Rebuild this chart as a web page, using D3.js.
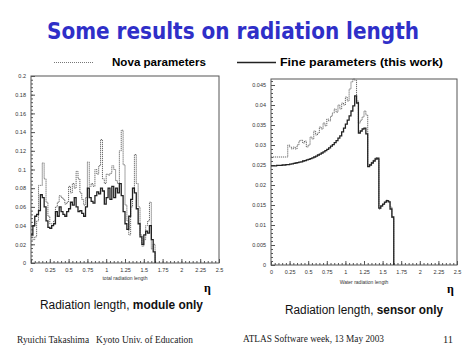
<!DOCTYPE html>
<html>
<head>
<meta charset="utf-8">
<script src="https://cdn.jsdelivr.net/npm/d3@7"></script>
<style>
  html, body { margin: 0; padding: 0; background: #fff; }
  svg { display: block; }
</style>
</head>
<body>
<svg id="chart" width="474" height="355"></svg>
<script>
// ---------------- DATA ----------------
const binWidth = 0.025;
// Left panel: total radiation length, module only (66 bins from eta 0 to 1.65)
const moduleNova = [
  0.030, 0.025, 0.028, 0.045, 0.083, 0.083, 0.107, 0.090, 0.065, 0.050,
  0.042, 0.040, 0.045, 0.060, 0.065, 0.072, 0.070, 0.068, 0.063, 0.065,
  0.082, 0.075, 0.085, 0.080, 0.098, 0.090, 0.075, 0.068, 0.062, 0.070,
  0.108, 0.082, 0.085, 0.082, 0.100, 0.095, 0.104, 0.132, 0.090, 0.085,
  0.095, 0.094, 0.096, 0.104, 0.100, 0.088, 0.085, 0.120, 0.142, 0.105,
  0.062, 0.045, 0.030, 0.060, 0.080, 0.116, 0.085, 0.060, 0.030, 0.018,
  0.025, 0.040, 0.045, 0.065, 0.015, 0.020
];
const moduleFine = [
  0.030, 0.040, 0.050, 0.052, 0.056, 0.073, 0.070, 0.060, 0.045, 0.038,
  0.037, 0.040, 0.042, 0.055, 0.050, 0.060, 0.055, 0.052, 0.050, 0.055,
  0.058, 0.065, 0.062, 0.070, 0.060, 0.055, 0.056, 0.053, 0.050, 0.060,
  0.080, 0.070, 0.066, 0.064, 0.072, 0.076, 0.074, 0.080, 0.077, 0.063,
  0.070, 0.080, 0.068, 0.082, 0.070, 0.080, 0.075, 0.085, 0.072, 0.055,
  0.042, 0.036, 0.050, 0.068, 0.080, 0.075, 0.058, 0.042, 0.028, 0.020,
  0.030, 0.034, 0.032, 0.040, 0.025, 0.012
];
// Right panel: water radiation length, sensor only
const sensorNova = [
  0.0270, 0.0270, 0.0270, 0.0270, 0.0270, 0.0270, 0.0270, 0.0270, 0.0270, 0.0300,
  0.0295, 0.0290, 0.0295, 0.0290, 0.0300, 0.0310, 0.0312, 0.0305, 0.0310, 0.0295,
  0.0300, 0.0320, 0.0315, 0.0335, 0.0325, 0.0330, 0.0345, 0.0340, 0.0355, 0.0348,
  0.0365, 0.0360, 0.0372, 0.0380, 0.0390, 0.0382, 0.0400, 0.0390, 0.0405, 0.0400,
  0.0420, 0.0410, 0.0440, 0.0458, 0.0465, 0.0462, 0.0410, 0.0355, 0.0362, 0.0370,
  0.0385, 0.0375, 0.0250, 0.0252, 0.0257, 0.0262, 0.0268, 0.0265, 0.0140, 0.0146,
  0.0151, 0.0156, 0.0162, 0.0160, 0.0145, 0.0118
];
const sensorFine = [
  0.0248, 0.0248, 0.0248, 0.0249, 0.0249, 0.0249, 0.0250, 0.0250, 0.0251, 0.0251,
  0.0252, 0.0253, 0.0254, 0.0255, 0.0256, 0.0257, 0.0258, 0.0260, 0.0261, 0.0263,
  0.0264, 0.0266, 0.0268, 0.0270, 0.0272, 0.0275, 0.0277, 0.0280, 0.0283, 0.0286,
  0.0289, 0.0293, 0.0297, 0.0301, 0.0306, 0.0311, 0.0317, 0.0323, 0.0333, 0.0342,
  0.0352, 0.0362, 0.0373, 0.0385, 0.0398, 0.0423, 0.0405, 0.0330, 0.0335, 0.0340,
  0.0342, 0.0328, 0.0246, 0.0250, 0.0255, 0.0260, 0.0265, 0.0267, 0.0142, 0.0148,
  0.0152, 0.0157, 0.0161, 0.0158, 0.0140, 0.0120
];
const xTicks = [0, 0.25, 0.5, 0.75, 1, 1.25, 1.5, 1.75, 2, 2.25, 2.5];
const xTickLabels = ["0", "0.25", "0.5", "0.75", "1", "1.25", "1.5", "1.75", "2", "2.25", "2.5"];
const leftYTicks = [0, 0.02, 0.04, 0.06, 0.08, 0.1, 0.12, 0.14, 0.16, 0.18, 0.2];
const rightYTicks = [0, 0.005, 0.01, 0.015, 0.02, 0.025, 0.03, 0.035, 0.04, 0.045];

// ---------------- DRAW ----------------
const svg = d3.select("#chart");

// Title
svg.append("text")
  .attr("x", 47).attr("y", 39)
  .attr("textLength", 372).attr("lengthAdjust", "spacingAndGlyphs")
  .style("font-family", "'Comic Sans MS', 'DejaVu Sans', sans-serif")
  .style("font-weight", "bold").style("font-size", "23px")
  .style("fill", "#2f2fc8")
  .text("Some results on radiation length");

// Legend
svg.append("line").attr("x1", 54).attr("x2", 93).attr("y1", 62.5).attr("y2", 62.5)
  .attr("stroke", "#777").attr("stroke-width", 1).attr("stroke-dasharray", "1,1");
svg.append("text").attr("x", 112).attr("y", 66)
  .attr("textLength", 94).attr("lengthAdjust", "spacingAndGlyphs")
  .style("font-family", "Arial, 'Liberation Sans', sans-serif").style("font-weight", "bold").style("font-size", "11px")
  .text("Nova parameters");
svg.append("line").attr("x1", 237).attr("x2", 276).attr("y1", 62.5).attr("y2", 62.5)
  .attr("stroke", "#222").attr("stroke-width", 1.3);
svg.append("text").attr("x", 280).attr("y", 66)
  .attr("textLength", 163).attr("lengthAdjust", "spacingAndGlyphs")
  .style("font-family", "Arial, 'Liberation Sans', sans-serif").style("font-weight", "bold").style("font-size", "11px")
  .text("Fine parameters  (this work)");

function panel(opts) {
  const { x0, x1, y0, y1, yMax, yTicks, yFmt, series, xTitle, xTitleY } = opts;
  const x = d3.scaleLinear().domain([0, 2.5]).range([x0, x1]);
  const y = d3.scaleLinear().domain([0, yMax]).range([y1, y0]);
  const g = svg.append("g");

  // frame
  g.append("rect").attr("x", x0).attr("y", y0).attr("width", x1 - x0).attr("height", y1 - y0)
    .attr("fill", "none").attr("stroke", "#555").attr("stroke-width", 1);

  // x axis (ticks inside)
  const xMinor = d3.range(0, 2.5001, 0.05);
  g.append("g").attr("transform", `translate(0,${y1})`)
    .call(d3.axisBottom(x).tickValues(xMinor).tickSize(-2).tickFormat(""))
    .call(a => a.select(".domain").remove())
    .call(a => a.selectAll("line").attr("stroke", "#555"));
  g.append("g").attr("transform", `translate(0,${y1})`)
    .call(d3.axisBottom(x).tickValues(xTicks).tickSize(-4).tickPadding(5)
      .tickFormat((d, i) => xTickLabels[i]))
    .call(a => a.select(".domain").remove())
    .call(a => a.selectAll("line").attr("stroke", "#555"))
    .call(a => a.selectAll("text").style("font-family", "Arial, 'Liberation Sans', sans-serif")
      .style("font-size", "5.5px").style("fill", "#333"));

  // y axis (ticks inside)
  const step = yTicks[1] - yTicks[0];
  const yMinor = d3.range(0, yMax + 1e-9, step / 5);
  g.append("g").attr("transform", `translate(${x0},0)`)
    .call(d3.axisLeft(y).tickValues(yMinor).tickSize(-2).tickFormat(""))
    .call(a => a.select(".domain").remove())
    .call(a => a.selectAll("line").attr("stroke", "#555"));
  g.append("g").attr("transform", `translate(${x0},0)`)
    .call(d3.axisLeft(y).tickValues(yTicks).tickSize(-4).tickPadding(5).tickFormat(yFmt))
    .call(a => a.select(".domain").remove())
    .call(a => a.selectAll("line").attr("stroke", "#555"))
    .call(a => a.selectAll("text").style("font-family", "Arial, 'Liberation Sans', sans-serif")
      .style("font-size", "5.5px").style("fill", "#333"));

  // histograms
  series.forEach(s => {
    const pts = s.values.map((v, i) => [i * binWidth, v]);
    const end = s.values.length * binWidth;
    pts.push([end, s.values[s.values.length - 1]]);
    pts.push([end, 0]);
    const line = d3.line().x(d => x(d[0])).y(d => y(d[1])).curve(d3.curveStepAfter);
    g.append("path").attr("d", line(pts)).attr("fill", "none")
      .attr("stroke", s.color).attr("stroke-width", s.width)
      .attr("stroke-dasharray", s.dash);
  });

  g.append("text").attr("x", (x0 + x1) / 2).attr("y", xTitleY).attr("text-anchor", "middle")
    .style("font-family", "Arial, 'Liberation Sans', sans-serif").style("font-size", "5px").style("fill", "#333")
    .text(xTitle);
}

panel({
  x0: 31, x1: 219, y0: 76, y1: 263, yMax: 0.2, yTicks: leftYTicks,
  yFmt: d => d3.format("~g")(d),
  series: [
    { values: moduleNova, color: "#666", width: 1, dash: "1.2,0.8" },
    { values: moduleFine, color: "#222", width: 1.3, dash: null }
  ],
  xTitle: "total radiation length", xTitleY: 280
});
panel({
  x0: 271, x1: 457, y0: 79, y1: 265, yMax: 0.0465, yTicks: rightYTicks,
  yFmt: d => d3.format("~g")(d),
  series: [
    { values: sensorNova, color: "#666", width: 1, dash: "1.2,0.8" },
    { values: sensorFine, color: "#222", width: 1.3, dash: null }
  ],
  xTitle: "Water radiation length", xTitleY: 284
});

// eta labels
[[204, 292], [447, 293]].forEach(p => {
  svg.append("text").attr("x", p[0]).attr("y", p[1])
    .style("font-family", "'Times New Roman', 'Liberation Serif', serif").style("font-weight", "bold")
    .style("font-size", "12px").text("η");
});

// captions
function caption(xp, yp, w, bold) {
  const t = svg.append("text").attr("x", xp).attr("y", yp)
    .attr("textLength", w).attr("lengthAdjust", "spacingAndGlyphs")
    .style("font-family", "Arial, 'Liberation Sans', sans-serif").style("font-size", "12px").style("fill", "#111");
  t.append("tspan").text("Radiation length, ");
  t.append("tspan").style("font-weight", "bold").text(bold);
}
caption(40, 309, 163, "module only");
caption(285, 314, 158, "sensor only");

// footer
const serif = "'Times New Roman', 'Liberation Serif', serif";
svg.append("text").attr("x", 17).attr("y", 343).attr("textLength", 176).attr("lengthAdjust", "spacingAndGlyphs")
  .style("font-family", serif).style("font-size", "10.5px").style("fill", "#222")
  .attr("xml:space", "preserve").text("Ryuichi Takashima   Kyoto Univ. of Education");
svg.append("text").attr("x", 243).attr("y", 342).attr("textLength", 141).attr("lengthAdjust", "spacingAndGlyphs")
  .style("font-family", serif).style("font-size", "10.5px").style("fill", "#222")
  .text("ATLAS Software week, 13 May 2003");
svg.append("text").attr("x", 443).attr("y", 343)
  .style("font-family", serif).style("font-size", "10.5px").style("fill", "#222")
  .text("11");
</script>
</body>
</html>
